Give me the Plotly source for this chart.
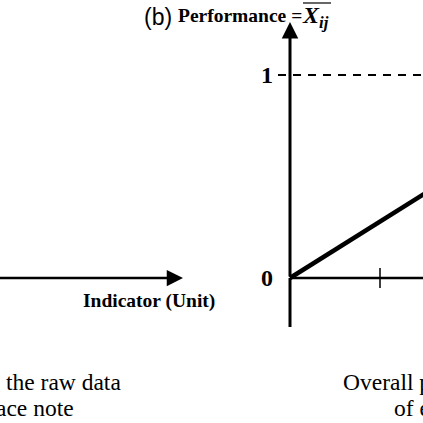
import plotly.graph_objects as go

# ---- data ----
perf_x = [0, 3.6]          # indicator value (tick units)
perf_y = [0, 1.0]          # performance
y_tick_vals = [0, 1]
y_tick_text = ["0", "1"]
x_tick_vals = [1]
target_level = 1

# pixel <-> data mapping helpers (origin of panel b at pixel (290, 278))
OX, OY, SX, SY = 290.0, 278.0, 90.0, 203.0
def X(px):
    return (px - OX) / SX
def Y(py):
    return (OY - py) / SY

W = H = 423
fig = go.Figure()

# performance line
fig.add_trace(go.Scatter(x=perf_x, y=perf_y, mode="lines",
                         line=dict(color="black", width=4.5),
                         hoverinfo="skip", cliponaxis=True))

shapes = []
# dashed target line at y = 1
shapes.append(dict(type="line", xref="x", yref="y", x0=X(278), x1=X(430),
                   y0=target_level, y1=target_level,
                   line=dict(color="black", width=2, dash="8px,7px")))
# x axis of panel b
shapes.append(dict(type="line", xref="x", yref="y", x0=0, x1=X(430), y0=0, y1=0,
                   line=dict(color="black", width=2.5)))
# x tick marks
for v in x_tick_vals:
    shapes.append(dict(type="line", xref="x", yref="y", x0=v, x1=v,
                       y0=Y(268), y1=Y(288), line=dict(color="black", width=1.5)))
# lower part of y axis
shapes.append(dict(type="line", xref="x", yref="y", x0=0, x1=0, y0=Y(327), y1=0,
                   line=dict(color="black", width=3)))
# overline above X_ij
shapes.append(dict(type="line", xref="x", yref="y", x0=X(303), x1=X(331),
                   y0=Y(3), y1=Y(3), line=dict(color="black", width=1.2)))

ann = []
# y axis arrow
ann.append(dict(x=0, y=Y(22), ax=0, ay=0, xref="x", yref="y", axref="x", ayref="y",
                text="", showarrow=True, arrowhead=2, arrowsize=1.1, arrowwidth=3,
                arrowcolor="black"))
# left panel x axis arrow
ann.append(dict(x=X(183), y=0, ax=X(-5), ay=0, xref="x", yref="y", axref="x", ayref="y",
                text="", showarrow=True, arrowhead=2, arrowsize=1.3, arrowwidth=2.5,
                arrowcolor="black"))

serif = "Liberation Serif"
# y tick labels
for v, t in zip(y_tick_vals, y_tick_text):
    ann.append(dict(x=X(267), y=v, xref="x", yref="y", text=f"<b>{t}</b>",
                    showarrow=False, font=dict(family=serif, size=24, color="black"),
                    xanchor="center", yanchor="middle"))

def pa(px, py, text, size, family=serif, xanchor="left", yanchor="middle"):
    ann.append(dict(x=px / W, y=1 - py / H, xref="paper", yref="paper", text=text,
                    showarrow=False, font=dict(family=family, size=size, color="black"),
                    xanchor=xanchor, yanchor=yanchor))

pa(142, 17, "(b)", 23, family="Liberation Sans")
pa(176, 15, "<b>Performance =</b>", 19.5)
pa(300, 17, "<b><i>X<sub>ij</sub></i></b>", 24)
pa(149, 301, "<b>Indicator (Unit)</b>", 19.5, xanchor="center")
pa(123, 382, "the raw data", 23.5, xanchor="right")
pa(76, 408, "ace note", 23.5, xanchor="right")
pa(341, 382, "Overall performance", 23.5)
pa(392, 408, "of each", 23.5)

fig.update_layout(
    width=W, height=H, margin=dict(l=0, r=0, t=0, b=0),
    paper_bgcolor="white", plot_bgcolor="white", showlegend=False,
    xaxis=dict(range=[X(0), X(W)], visible=False, fixedrange=True),
    yaxis=dict(range=[Y(H), Y(0)], visible=False, fixedrange=True),
    shapes=shapes, annotations=ann,
)
fig.write_html("out.html")
